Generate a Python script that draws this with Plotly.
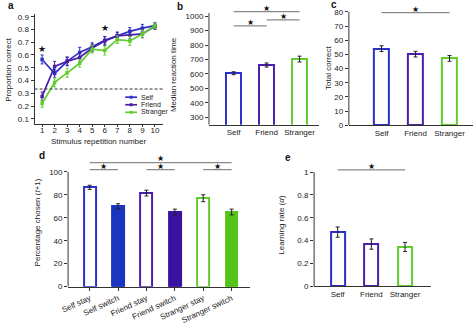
import plotly.graph_objects as go

W, H = 474, 326

# ---- data -------------------------------------------------------------
reps = list(range(1, 11))
self_pc = [0.565, 0.455, 0.55, 0.62, 0.665, 0.715, 0.75, 0.785, 0.81, 0.83]
friend_pc = [0.275, 0.51, 0.55, 0.58, 0.655, 0.71, 0.75, 0.755, 0.765, 0.825]
stranger_pc = [0.22, 0.385, 0.46, 0.535, 0.645, 0.635, 0.72, 0.71, 0.765, 0.83]
self_pc_err = [0.035, 0.03, 0.03, 0.04, 0.03, 0.03, 0.025, 0.03, 0.03, 0.025]
friend_pc_err = [0.035, 0.04, 0.035, 0.035, 0.03, 0.035, 0.03, 0.03, 0.03, 0.025]
stranger_pc_err = [0.03, 0.035, 0.035, 0.03, 0.03, 0.035, 0.03, 0.035, 0.03, 0.025]
chance_level = 1 / 3

groups = ["Self", "Friend", "Stranger"]
rt_median = [605, 662, 703]
rt_err = [10, 14, 20]

total_correct = [54.1, 50.2, 47.2]
total_err = [2.0, 2.0, 2.0]

choice_labels = ["Self stay", "Self switch", "Friend stay", "Friend switch",
                 "Stranger stay", "Stranger switch"]
pct_chosen = [86.5, 70.0, 81.5, 65.0, 77.0, 65.0]
pct_err = [1.8, 2.2, 2.5, 2.5, 3.0, 2.5]

learning_rate = [0.475, 0.37, 0.345]
lr_err = [0.045, 0.045, 0.04]

# ---- style ------------------------------------------------------------
C_SELF, C_FRIEND, C_STRANGER = "#2a30c8", "#4a1faa", "#62cc2e"
C_SELF_F, C_FRIEND_F, C_STRANGER_F = "#1a36c0", "#3a12a0", "#55c41a"
AX = "#333333"
SIG = "#8a8a8a"
FONT = "Liberation Sans, Arial, sans-serif"
FS = 8


def px_x(p):
    return p / W


def px_y(p):
    return 1 - p / H


fig = go.Figure()


def axis_common(**kw):
    d = dict(showgrid=False, zeroline=False, ticks="outside", ticklen=3,
             tickwidth=1, tickcolor=AX, linecolor=AX, linewidth=1,
             tickfont=dict(size=FS, color="#222", family=FONT))
    d.update(kw)
    return d


# ---- panel a: learning curves -----------------------------------------
series_a = [("Self", self_pc, self_pc_err, C_SELF),
            ("Friend", friend_pc, friend_pc_err, C_FRIEND),
            ("Stranger", stranger_pc, stranger_pc_err, C_STRANGER)]
for name, vals, errs, col in series_a:
    fig.add_trace(go.Scatter(
        x=reps, y=vals, name=name, mode="lines+markers",
        line=dict(color=col, width=1.7),
        marker=dict(symbol="square", size=3.5, color=col),
        error_y=dict(type="data", array=errs, color=col, thickness=1, width=1.5),
        xaxis="x", yaxis="y", showlegend=False))

fig.add_shape(type="line", xref="x domain", x0=0, x1=1, yref="y",
              y0=chance_level, y1=chance_level,
              line=dict(color="#333", width=1, dash="3px,2px"))

# compact legend for panel a
for i, (name, _, _, col) in enumerate(series_a):
    ly = 98 + i * 7.7
    fig.add_shape(type="line", xref="paper", yref="paper",
                  x0=px_x(120), x1=px_x(132), y0=px_y(ly), y1=px_y(ly),
                  line=dict(color=col, width=1.7))
    fig.add_shape(type="rect", xref="paper", yref="paper",
                  x0=px_x(124.5), x1=px_x(127.5), y0=px_y(ly + 1.5), y1=px_y(ly - 1.5),
                  line=dict(width=0), fillcolor=col)
    fig.add_annotation(x=px_x(134), y=px_y(ly), xref="paper", yref="paper",
                       text=name, showarrow=False, xanchor="left", yanchor="middle",
                       font=dict(size=7, color="#222", family=FONT))

# ---- bar panels helper --------------------------------------------------
def bar_panel(n, xs, vals, errs, line_cols, fill_cols, width):
    fig.add_trace(go.Bar(
        x=xs, y=vals, width=width,
        marker=dict(color=fill_cols, line=dict(color=line_cols, width=2)),
        error_y=dict(type="data", array=errs, color="#222", thickness=1, width=2),
        xaxis=f"x{n}", yaxis=f"y{n}", showlegend=False))


group_cols = [C_SELF, C_FRIEND, C_STRANGER]
bar_panel(2, [0, 1, 2], rt_median, rt_err, group_cols, ["white"] * 3, 0.45)
bar_panel(3, [0, 1, 2], total_correct, total_err, group_cols, ["white"] * 3, 0.43)
bar_panel(4, list(range(6)), pct_chosen, pct_err,
          [C_SELF, C_SELF_F, C_FRIEND, C_FRIEND_F, C_STRANGER, C_STRANGER_F],
          ["white", C_SELF_F, "white", C_FRIEND_F, "white", C_STRANGER_F], 0.42)
bar_panel(5, [0, 1, 2], learning_rate, lr_err, group_cols, ["white"] * 3, 0.42)

# ---- axes -------------------------------------------------------------
fig.update_layout(
    xaxis=axis_common(domain=[px_x(28), px_x(158)], range=[0.4, 10.62],
                      tickvals=reps, showline=True, anchor="y", ticklen=2,
                      ticklabelstandoff=-3),
    yaxis=axis_common(domain=[px_y(125), px_y(13)], range=[0.0615, 0.923],
                      tickvals=[0.1, 0.2, 0.3, 0.4, 0.5, 0.6, 0.7, 0.8, 0.9],
                      tickformat=".1f", showline=True, anchor="x"),
    xaxis2=axis_common(domain=[px_x(205), px_x(317)], range=[-0.75, 2.6],
                       tickvals=[0, 1, 2], ticktext=groups, showline=True,
                       ticks="", anchor="y2"),
    yaxis2=axis_common(domain=[px_y(126), px_y(5)], range=[250, 1070],
                       tickvals=[300, 400, 500, 600, 700, 800, 900, 1000],
                       showline=False, anchor="x2"),
    xaxis3=axis_common(domain=[px_x(347), px_x(473)], range=[-0.96, 2.69],
                       tickvals=[0, 1, 2], ticktext=groups, showline=True,
                       ticks="", anchor="y3"),
    yaxis3=axis_common(domain=[px_y(126.7), px_y(5)], range=[0, 84.2],
                       tickvals=[0, 10, 20, 30, 40, 50, 60, 70, 80],
                       showline=False, anchor="x3"),
    xaxis4=axis_common(domain=[px_x(62), px_x(247)], range=[-0.76, 5.66],
                       tickvals=list(range(6)), ticktext=choice_labels,
                       tickangle=-25, showline=True, anchor="y4"),
    yaxis4=axis_common(domain=[px_y(291), px_y(160)], range=[0, 112],
                       tickvals=[0, 20, 40, 60, 80, 100], showline=False,
                       anchor="x4"),
    xaxis5=axis_common(domain=[px_x(311.7), px_x(430)], range=[-0.7, 2.76],
                       tickvals=[0, 1, 2], ticktext=groups, showline=True,
                       ticks="", anchor="y5"),
    yaxis5=axis_common(domain=[px_y(290.7), px_y(165)], range=[0, 1.08],
                       tickvals=[0, 0.2, 0.4, 0.6, 0.8, 1],
                       showline=False, anchor="x5"),
)

# y-axis spines that stop at the top tick
for n, y0, y1 in [(2, 250, 1020), (3, 0, 80), (4, 0, 100), (5, 0, 1)]:
    fig.add_shape(type="line", xref=f"x{n} domain", x0=0, x1=0,
                  yref=f"y{n}", y0=y0, y1=y1, line=dict(color=AX, width=1))

# ---- axis titles --------------------------------------------------------
y_titles = [("Proportion correct", 2, 70),
            ("Median reaction time", 169, 75),
            ("Total correct", 327, 68),
            ("Percentage chosen (<i>t</i>+1)", 31, 226),
            ("Learning rate (<i>α</i>)", 279, 228)]
for text, tx, ty in y_titles:
    fig.add_annotation(x=px_x(tx), y=px_y(ty), xref="paper", yref="paper",
                       text=text, textangle=-90, showarrow=False,
                       xanchor="center", yanchor="middle",
                       font=dict(size=FS, color="#222", family=FONT))
fig.add_annotation(x=px_x(93), y=px_y(143), xref="paper", yref="paper",
                   text="Stimulus repetition number", showarrow=False,
                   xanchor="center", yanchor="middle",
                   font=dict(size=FS, color="#222", family=FONT))

# ---- significance brackets --------------------------------------------
def sig(n, xa, xb, y, star_y):
    fig.add_shape(type="line", xref=f"x{n}", yref=f"y{n}", x0=xa, x1=xb,
                  y0=y, y1=y, line=dict(color=SIG, width=1.2))
    fig.add_annotation(x=(xa + xb) / 2, y=star_y, xref=f"x{n}", yref=f"y{n}",
                       text="★", showarrow=False,
                       font=dict(size=8, color="#111"))


sig(2, 0, 2, 1030, 1052)
sig(2, 1, 2, 973, 995)
sig(2, 0, 1, 932, 954)
sig(3, 0, 2, 79.5, 82)
sig(4, 0, 5, 108, 111.5)
sig(4, 0, 1, 102, 104.8)
sig(4, 2, 3, 102, 104.8)
sig(4, 4, 5, 102, 104.8)
sig(5, 0, 2, 1.02, 1.045)

for xr, yr in [(1, 0.645), (6, 0.815)]:
    fig.add_annotation(x=xr, y=yr, xref="x", yref="y", text="★",
                       showarrow=False, font=dict(size=9, color="#111"))

# ---- panel letters ----------------------------------------------------
for letter, lx, ly in [("a", 4, 5), ("b", 176, 6), ("c", 332, 4),
                       ("d", 36, 157), ("e", 285, 159)]:
    fig.add_annotation(x=px_x(lx), y=px_y(ly), xref="paper", yref="paper",
                       text=f"<b>{letter}</b>", showarrow=False,
                       xanchor="center", yanchor="middle",
                       font=dict(size=10, color="#111", family=FONT))

fig.update_layout(
    width=W, height=H, margin=dict(l=0, r=0, t=0, b=0),
    paper_bgcolor="white", plot_bgcolor="white",
    font=dict(family=FONT, size=FS, color="#222"),
    bargap=0, showlegend=False,
)

fig.write_html("out.html")
